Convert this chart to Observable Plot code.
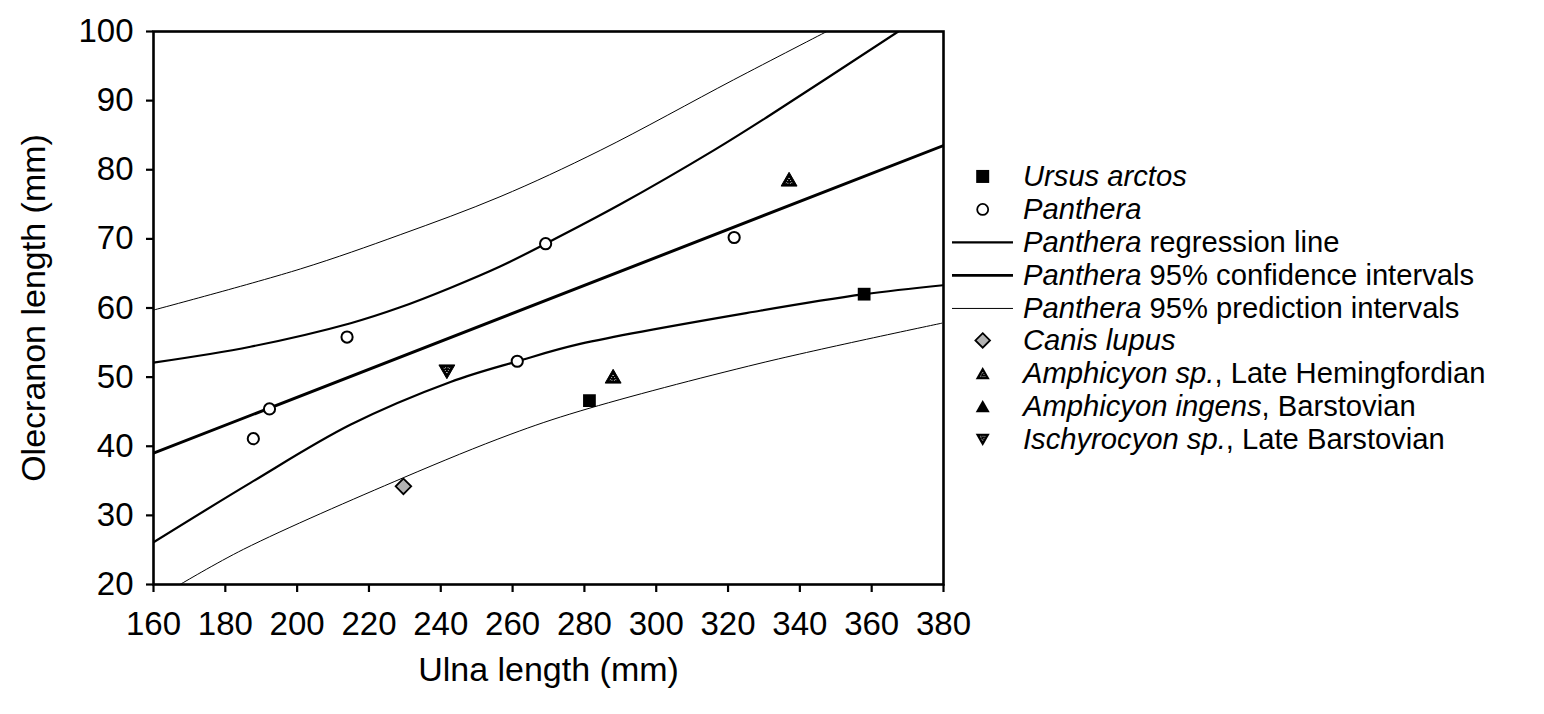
<!DOCTYPE html>
<html>
<head>
<meta charset="utf-8">
<script src="https://cdn.jsdelivr.net/npm/d3@7"></script>
<script src="https://cdn.jsdelivr.net/npm/@observablehq/plot@0.6"></script>
<style>
  body { margin: 0; background: #fff; }
  #wrap { position: relative; width: 1544px; height: 714px; font-family: "Liberation Sans", Arial, sans-serif; }
  #legend { position: absolute; left: 945px; top: 160px; font-size: 29.2px; line-height: 32.9px; color: #000; }
  #legend .row { display: flex; align-items: center; height: 32.9px; white-space: nowrap; }
  #legend svg { width: 68px; height: 32.9px; margin-right: 10px; flex: none; }
</style>
</head>
<body>
<div id="wrap"></div>
<script>
// ---- data ----
const xTicks = [160, 180, 200, 220, 240, 260, 280, 300, 320, 340, 360, 380];
const yTicks = [20, 30, 40, 50, 60, 70, 80, 90, 100];

const pantheraX = [187.8, 192.3, 213.9, 261.3, 269.2, 321.7];
const pantheraY = [41.1, 45.4, 55.8, 52.3, 69.3, 70.2];

const ursusX = [281.4, 357.9];
const ursusY = [46.6, 62.0];

const canisX = [229.6];
const canisY = [34.2];

const amphSpX = [288.0];
const amphSpY = [49.8];

const amphIngensX = [337.0];
const amphIngensY = [78.3];

const ischyX = [241.7];
const ischyY = [51.1];

const regX = [160, 380];
const regY = [39.0, 83.5];

const ciUpperX = [160, 187, 214.9, 228.7, 242.6, 256.5, 269.2, 290, 316, 330.8, 367.4];
const ciUpperY = [52.1, 54.4, 57.8, 60.1, 62.9, 66.0, 69.3, 75.0, 82.8, 87.6, 100];

const ciLowerX = [160, 187, 214.8, 242.7, 261.4, 278.8, 328.9, 358, 380];
const ciLowerY = [26.1, 34.7, 43.1, 49.3, 52.3, 54.8, 59.6, 62.0, 63.3];

const piUpperX = [160, 200.9, 228.7, 256.5, 284.4, 321.5, 347.5];
const piUpperY = [59.7, 65.65, 70.6, 76.1, 82.8, 93.0, 100];

const piLowerX = [167.4, 185.1, 229.6, 259.3, 278.8, 328.9, 379.5];
const piLowerY = [20, 25.1, 35.45, 41.7, 45.1, 52.0, 57.8];

const legendLabels = [
  "<i>Ursus arctos</i>",
  "<i>Panthera</i>",
  "<i>Panthera</i> regression line",
  "<i>Panthera</i> 95% confidence intervals",
  "<i>Panthera</i> 95% prediction intervals",
  "<i>Canis lupus</i>",
  "<i>Amphicyon sp.</i>, Late Hemingfordian",
  "<i>Amphicyon ingens</i>, Barstovian",
  "<i>Ischyrocyon sp.</i>, Late Barstovian"
];

// ---- build tables ----
const zip = (xs, ys) => xs.map((x, i) => ({x, y: ys[i]}));
const panthera = zip(pantheraX, pantheraY);
const ursus = zip(ursusX, ursusY);
const canis = zip(canisX, canisY);
const amphUp = zip(amphSpX.concat(amphIngensX), amphSpY.concat(amphIngensY));
const ischy = zip(ischyX, ischyY);
const reg = zip(regX, regY);
const ciU = zip(ciUpperX, ciUpperY);
const ciL = zip(ciLowerX, ciLowerY);
const piU = zip(piUpperX, piUpperY);
const piL = zip(piLowerX, piLowerY);

const font = "Liberation Sans, Arial, sans-serif";

const chart = Plot.plot({
  width: 1544,
  height: 714,
  marginLeft: 153,
  marginRight: 601,
  marginTop: 31,
  marginBottom: 130,
  style: {fontFamily: font, background: "#fff", color: "#000"},
  x: {domain: [160, 380], ticks: xTicks},
  y: {domain: [20, 100], ticks: yTicks},
  marks: [
    Plot.line(piU, {x: "x", y: "y", curve: "catmull-rom", stroke: "#000", strokeWidth: 1, clip: true}),
    Plot.line(piL, {x: "x", y: "y", curve: "catmull-rom", stroke: "#000", strokeWidth: 1, clip: true}),
    Plot.line(ciU, {x: "x", y: "y", curve: "catmull-rom", stroke: "#000", strokeWidth: 2.2, clip: true}),
    Plot.line(ciL, {x: "x", y: "y", curve: "catmull-rom", stroke: "#000", strokeWidth: 2.2, clip: true}),
    Plot.line(reg, {x: "x", y: "y", stroke: "#000", strokeWidth: 3, clip: true}),
    Plot.dot(panthera, {x: "x", y: "y", symbol: "circle", r: 5.6, fill: "#fff", stroke: "#000", strokeWidth: 2}),
    Plot.dot(ursus, {x: "x", y: "y", symbol: "square", r: 7.2, fill: "#000", stroke: "none"}),
    Plot.dot(canis, {x: "x", y: "y", symbol: "diamond2", r: 7, fill: "#b3b3b3", stroke: "#000", strokeWidth: 1.8}),
    Plot.dot(amphUp, {x: "x", y: "y", symbol: "triangle", r: 5.9, fill: "#000", stroke: "#000", strokeWidth: 1}),
    Plot.dot(amphUp, {x: "x", y: "y", symbol: "triangle", r: 2.3, fill: "none", stroke: "#fff", strokeWidth: 0.8, strokeDasharray: "1,1.5"}),
    Plot.dot(ischy, {x: "x", y: "y", symbol: "triangle", rotate: 180, r: 5.9, fill: "#000", stroke: "#000", strokeWidth: 1}),
    Plot.dot(ischy, {x: "x", y: "y", symbol: "triangle", rotate: 180, r: 2.3, fill: "none", stroke: "#fff", strokeWidth: 0.8, strokeDasharray: "1,1.5"}),
    Plot.frame({stroke: "#000", strokeWidth: 2.6}),
    Plot.axisX({ticks: xTicks, tickSize: 8, tickPadding: 19, fontSize: 33, strokeWidth: 2.2, label: null}),
    Plot.axisY({ticks: yTicks, tickSize: 7, tickPadding: 13, fontSize: 33, strokeWidth: 2.2, label: null}),
    Plot.text(["Olecranon length (mm)"], {frameAnchor: "left", dx: -119, rotate: -90, fontSize: 34, textAnchor: "middle", lineAnchor: "middle", fill: "#000"}),
    Plot.text(["Ulna length (mm)"], {frameAnchor: "bottom", dy: 86, fontSize: 34, textAnchor: "middle", lineAnchor: "middle", fill: "#000"})
  ]
});

const wrap = document.getElementById("wrap");
wrap.appendChild(chart);

// ---- legend (HTML, placed to the right of the plot) ----
const symbolSvgs = [
  '<rect x="31.2" y="9.95" width="13" height="13" fill="#000"/>',
  '<circle cx="37.7" cy="16.45" r="5.5" fill="#fff" stroke="#000" stroke-width="1.8"/>',
  '<line x1="7" x2="68" y1="16.45" y2="16.45" stroke="#000" stroke-width="2.3"/>',
  '<line x1="7" x2="68" y1="16.45" y2="16.45" stroke="#000" stroke-width="2.8"/>',
  '<line x1="7" x2="68" y1="16.45" y2="16.45" stroke="#000" stroke-width="1"/>',
  '<path d="M37.7,9.2 L45,16.45 L37.7,23.7 L30.4,16.45 Z" fill="#b3b3b3" stroke="#000" stroke-width="1.8"/>',
  '<path d="M37.7,9.95 L44.7,22.2 L30.7,22.2 Z" fill="#000"/><path d="M37.7,15.2 L40.1,19.6 L35.3,19.6 Z" fill="none" stroke="#fff" stroke-width="0.7" stroke-dasharray="1,1.2"/>',
  '<path d="M37.7,9.95 L44.7,22.2 L30.7,22.2 Z" fill="#000"/>',
  '<path d="M37.7,22.95 L44.7,10.7 L30.7,10.7 Z" fill="#000"/><path d="M37.7,17.7 L40.1,13.3 L35.3,13.3 Z" fill="none" stroke="#fff" stroke-width="0.7" stroke-dasharray="1,1.2"/>'
];
const legend = document.createElement("div");
legend.id = "legend";
legend.innerHTML = legendLabels.map((lab, i) =>
  `<div class="row"><svg viewBox="0 0 68 32.9">${symbolSvgs[i]}</svg><span>${lab}</span></div>`
).join("");
wrap.appendChild(legend);
</script>
</body>
</html>
